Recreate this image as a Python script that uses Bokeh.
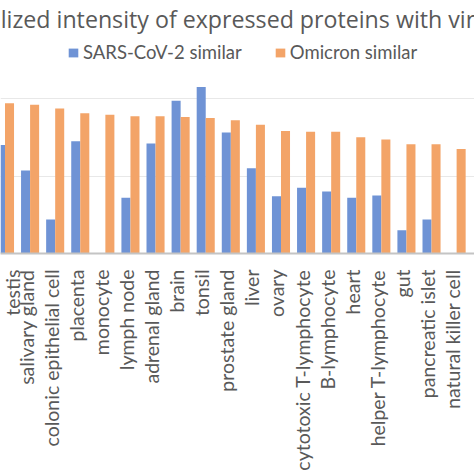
import math
from bokeh.plotting import figure
from bokeh.models import ColumnDataSource, Range1d, FixedTicker, Legend, LegendItem
from bokeh.core.properties import value
from bokeh.embed import file_html
from bokeh.resources import INLINE

# Tissues / cell types, in chart order
tissues = [
    "testis", "salivary gland", "colonic epithelial cell", "placenta", "monocyte",
    "lymph node", "adrenal gland", "brain", "tonsil", "prostate gland", "liver",
    "ovary", "cytotoxic T-lymphocyte", "B-lymphocyte", "heart",
    "helper T-lymphocyte", "gut", "pancreatic islet", "natural killer cell",
]

# Normalized intensity per tissue (one gridline step = 1 unit)
sars_cov2_similar = [1.40, 1.07, 0.44, 1.45, 0.00, 0.72, 1.42, 1.97, 2.15, 1.56,
                     1.10, 0.74, 0.85, 0.80, 0.72, 0.75, 0.30, 0.44, 0.00]
omicron_similar = [1.94, 1.92, 1.87, 1.81, 1.79, 1.77, 1.77, 1.76, 1.75, 1.72,
                   1.66, 1.58, 1.57, 1.57, 1.50, 1.47, 1.41, 1.41, 1.35]

series_labels = ["SARS-CoV-2 similar", "Omicron similar"]
gridline_values = [1, 2]
title_text = "Normalized intensity of expressed proteins with virus"

BLUE = "#6F93D5"
ORANGE = "#F3A468"
TEXT_GREY = "#595959"
TITLE_FONT = "Open Sans"
FONT = "Lato"

# canvas geometry
W, H = 474, 474
AXIS_Y = 253          # screen row of the category axis
PX_PER_UNIT = 77.5    # pixels per value unit
PX_PER_CAT = 25.09    # pixels per category slot
X0 = -4.5 / PX_PER_CAT
BAR_W = 0.36
DODGE = 0.18
LABEL_NUDGE = 0.16    # rotated labels sit slightly left of the group centre

idx = list(range(len(tissues)))
src = ColumnDataSource(dict(
    x_sars=[i - DODGE for i in idx],
    x_omi=[i + DODGE for i in idx],
    sars=sars_cov2_similar,
    omi=omicron_similar,
))

p = figure(
    width=W, height=H, output_backend="svg", toolbar_location=None,
    x_range=Range1d(X0, X0 + W / PX_PER_CAT),
    y_range=Range1d(0, AXIS_Y / PX_PER_UNIT),
    y_axis_location=None,
    min_border_left=0, min_border_right=0, min_border_top=0,
    min_border_bottom=H - AXIS_Y,
)
p.title.visible = False
p.outline_line_color = None
p.background_fill_color = "white"
p.border_fill_color = "white"

p.xgrid.visible = False
p.ygrid.ticker = FixedTicker(ticks=gridline_values)
p.ygrid.grid_line_color = "#E8E8E8"
p.ygrid.grid_line_width = 1

r_sars = p.vbar(x="x_sars", top="sars", width=BAR_W, source=src,
                fill_color=BLUE, line_color=None)
r_omi = p.vbar(x="x_omi", top="omi", width=BAR_W, source=src,
               fill_color=ORANGE, line_color=None)

label_ticks = [round(i - LABEL_NUDGE, 2) for i in idx]
ax = p.xaxis[0]
ax.ticker = FixedTicker(ticks=label_ticks)
ax.major_label_overrides = {t: name for t, name in zip(label_ticks, tissues)}
ax.major_label_orientation = math.pi / 2
ax.major_label_text_font = FONT
ax.major_label_text_font_size = "19.5px"
ax.major_label_text_color = TEXT_GREY
ax.major_label_standoff = 10
ax.major_tick_line_color = None
ax.minor_tick_line_color = None
ax.axis_line_color = "#C4C4C4"
ax.axis_line_width = 2

# chart title, running off both edges of the canvas
p.text(x=[X0], y=[AXIS_Y / PX_PER_UNIT], text=[title_text],
       x_offset=-75, y_offset=18,
       text_font=value(TITLE_FONT), text_font_size="23.2px", text_color=TEXT_GREY,
       text_align="left", text_baseline="alphabetic")

legend = Legend(
    items=[LegendItem(label=series_labels[0], renderers=[r_sars]),
           LegendItem(label=series_labels[1], renderers=[r_omi])],
    orientation="horizontal", location=(67, 190),
    glyph_width=12, glyph_height=11, label_standoff=4, spacing=32,
    label_text_font=FONT, label_text_font_size="18.5px",
    label_text_color=TEXT_GREY, label_height=20,
    padding=0, margin=0, border_line_color=None, background_fill_alpha=0,
)
p.add_layout(legend)

open("out.html", "w").write(file_html(p, INLINE))
